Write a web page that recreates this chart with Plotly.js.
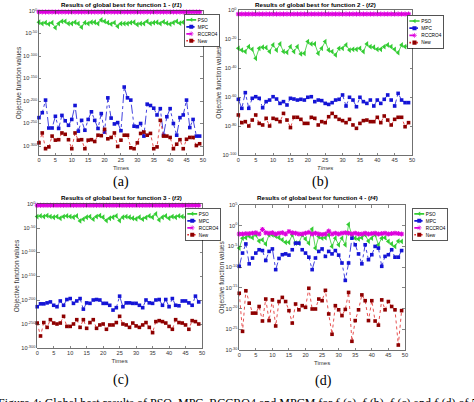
<!DOCTYPE html>
<html><head><meta charset="utf-8">
<script src="https://cdn.plot.ly/plotly-3.0.1.min.js"></script>
<style>html,body{margin:0;padding:0;background:#fff;}#chart{width:474px;height:402px;}</style>
</head><body><div id="chart"></div>
<script>
// ---- data (log10 of objective function values) ----
const runs = [0,1,2,3,4,5,6,7,8,9,10,11,12,13,14,15,16,17,18,19,20,21,22,23,24,25,26,27,28,29,30,31,32,33,34,35,36,37,38,39,40,41,42,43,44,45,46,47,48,49];
const seriesNames = ['PSO','MPC','RCCRO4','New'];

const f1_pso = [-25,-28,-26,-29,-26,-37,-28,-23,-23,-28,-28,-25,-28,-36,-26,-28,-25,-25,-28,-20,-23,-26,-29,-26,-34,-28,-28,-28,-26,-25,-30,-28,-28,-23,-28,-26,-25,-28,-24,-27,-29,-26,-23,-27,-25,-28,-26,-24,-27,-27];
const f1_mpc = [-237,-226,-198,-260,-260,-234,-261,-232,-244,-254,-241,-210,-267,-243,-265,-241,-224,-243,-261,-228,-269,-193,-238,-251,-248,-266,-169,-193,-198,-256,-257,-250,-278,-207,-210,-216,-231,-217,-276,-235,-217,-250,-276,-237,-231,-198,-259,-241,-278,-278];
const f1_rccro4 = [-2,-2,-2,-2,-2,-2,-2,-2,-2,-2,-2,-2,-2,-2,-2,-2,-2,-2,-2,-2,-2,-2,-2,-2,-2,-2,-2,-2,-2,-2,-2,-2,-2,-2,-2,-2,-2,-2,-2,-2,-2,-2,-2,-2,-2,-2,-2,-2,-2,-2];
const f1_new = [-293,-271,-306,-302,-278,-287,-286,-271,-274,-286,-306,-271,-287,-286,-306,-287,-286,-290,-276,-277,-263,-284,-281,-271,-301,-287,-276,-276,-304,-306,-293,-272,-269,-276,-272,-306,-302,-243,-278,-278,-281,-306,-296,-286,-306,-285,-281,-281,-299,-295];

const f2_pso = [-26.4,-27.6,-28.7,-25.3,-27.1,-33.3,-26.4,-25.7,-26.0,-28.7,-24.1,-27.6,-23.4,-28.7,-29.2,-25.3,-28.7,-25.3,-30.3,-29.9,-21.8,-23.4,-23.4,-29.9,-26.4,-21.8,-27.6,-28.7,-31.0,-26.4,-26.4,-24.1,-27.6,-27.1,-27.1,-26.4,-28.7,-23.4,-25.3,-25.7,-27.1,-27.1,-25.3,-24.1,-25.3,-27.1,-29.4,-24.1,-25.3,-24.8];
const f2_mpc = [-61.6,-67.8,-57.0,-67.8,-60.9,-59.8,-60.9,-67.4,-63.2,-62.1,-59.8,-61.4,-64.4,-63.2,-65.5,-60.9,-61.4,-62.1,-61.6,-62.1,-60.2,-59.8,-63.2,-62.1,-62.5,-64.4,-65.1,-63.9,-62.1,-61.6,-58.6,-66.2,-60.2,-62.1,-66.7,-60.2,-63.2,-64.4,-62.1,-66.2,-62.1,-64.4,-61.6,-58.6,-62.1,-66.2,-57.5,-62.1,-63.9,-63.9];
const f2_rccro4 = [-2.8,-2.8,-2.8,-2.8,-2.8,-2.8,-2.8,-2.8,-2.8,-2.8,-2.8,-2.8,-2.8,-2.8,-2.8,-2.8,-2.8,-2.8,-2.8,-2.8,-2.8,-2.8,-2.8,-2.8,-2.8,-2.8,-2.8,-2.8,-2.8,-2.8,-2.8,-2.8,-2.8,-2.8,-2.8,-2.8,-2.8,-2.8,-2.8,-2.8,-2.8,-2.8,-2.8,-2.8,-2.8,-2.8,-2.8,-2.8,-2.8,-2.8];
const f2_new = [-72.4,-77.7,-77.0,-80.0,-75.9,-72.4,-78.2,-79.3,-74.7,-80.0,-74.7,-75.4,-77.0,-71.3,-75.9,-81.1,-74.0,-74.0,-75.4,-78.2,-78.2,-74.0,-74.7,-79.3,-77.0,-77.7,-73.6,-71.3,-73.6,-75.4,-76.3,-77.7,-75.4,-79.3,-81.6,-78.2,-76.3,-75.9,-77.0,-77.0,-74.0,-77.7,-73.1,-75.9,-79.3,-75.4,-74.0,-74.0,-80.5,-77.7];

const f3_pso = [-26.2,-24.8,-26.2,-24.1,-26.2,-27.6,-26.2,-29.7,-26.2,-24.8,-26.2,-27.6,-24.8,-35.2,-31.7,-27.6,-26.2,-31.7,-26.2,-24.1,-27.6,-34.5,-29.7,-27.6,-24.8,-34.5,-27.6,-26.2,-27.6,-29.7,-31.0,-27.6,-31.7,-28.3,-24.8,-27.6,-20.7,-33.1,-27.6,-24.8,-29.7,-26.2,-27.6,-24.8,-26.2,-27.6,-26.2,-24.8,-27.6,-26.2];
const f3_mpc = [-214,-208,-208,-206,-204,-211,-214,-202,-211,-199,-197,-207,-202,-197,-219,-206,-207,-200,-199,-200,-207,-207,-211,-221,-216,-192,-214,-206,-206,-207,-207,-211,-216,-200,-206,-207,-200,-199,-211,-199,-214,-197,-211,-212,-202,-202,-206,-211,-192,-204];
const f3_rccro4 = [-2.7,-2.7,-2.7,-2.7,-2.7,-2.7,-2.7,-2.7,-2.7,-2.7,-2.7,-2.7,-2.7,-2.7,-2.7,-2.7,-2.7,-2.7,-2.7,-2.7,-2.7,-2.7,-2.7,-2.7,-2.7,-2.7,-2.7,-2.7,-2.7,-2.7,-2.7,-2.7,-2.7,-2.7,-2.7,-2.7,-2.7,-2.7,-2.7,-2.7,-2.7,-2.7,-2.7,-2.7,-2.7,-2.7,-2.7,-2.7,-2.7,-2.7];
const f3_new = [-248,-275,-247,-257,-241,-248,-250,-248,-234,-255,-255,-250,-241,-257,-241,-259,-247,-241,-259,-252,-250,-261,-252,-252,-247,-234,-250,-252,-257,-248,-254,-257,-252,-247,-257,-268,-245,-243,-245,-248,-255,-261,-241,-247,-248,-252,-261,-243,-245,-250];

const f4_pso = [-5.4,-3.0,-2.9,-2.5,-2.9,-2.2,-3.7,-3.4,-4.4,-2.2,-2.2,-2.5,-2.9,-3.4,-4.0,-4.0,-2.2,-4.2,-4.2,-2.2,-3.2,-4.2,-0.8,-5.4,-2.6,-3.0,-2.9,-2.2,-5.0,-3.0,-4.6,-3.0,-4.6,0.3,-2.2,-3.0,-3.2,-2.9,-2.2,-3.7,-3.0,-2.2,-4.6,-3.0,-2.9,-3.8,-4.4,-5.0,-3.7,-3.8];
const f4_mpc = [-9.8,-6.6,-4.4,-9.2,-7.8,-6.6,-5.8,-6.0,-8.4,-6.2,-5.6,-10.6,-7.9,-7.0,-6.8,-7.1,-5.8,-4.2,-4.2,-5.8,-6.6,-7.6,-10.6,-7.8,-6.2,-5.6,-7.4,-6.2,-6.8,-6.0,-7.1,-9.0,-13.2,-9.0,-3.0,-4.6,-6.8,-9.2,-4.6,-8.2,-7.0,-5.0,-5.4,-9.8,-7.4,-7.0,-5.8,-7.6,-7.6,-6.0];
const f4_rccro4 = [-2.0,-2.0,-1.9,-1.9,-1.8,-1.7,-2.0,-0.9,-1.7,-1.8,-1.7,-2.0,-1.8,-1.7,-2.0,-1.4,-1.7,-1.8,-2.0,-2.0,-1.8,-1.6,-2.0,-1.8,-2.0,-2.1,-2.0,-1.3,-2.0,-1.8,-2.0,-1.8,-1.7,-1.8,-2.0,-1.8,-2.0,-2.0,-1.8,-2.0,-1.9,-1.8,-2.0,-1.9,-1.8,-2.0,-1.9,-1.8,-1.9,-2.0];
const f4_new = [-16.3,-25.5,-15.7,-18.7,-21.1,-21.1,-19.5,-23.0,-17.7,-22.9,-17.9,-24.2,-18.3,-17.3,-18.3,-20.5,-23.5,-18.9,-20.3,-19.3,-19.7,-15.1,-20.1,-20.1,-17.7,-18.1,-15.6,-21.3,-26.2,-19.3,-20.3,-21.7,-20.2,-16.1,-27.9,-22.9,-20.3,-16.7,-18.1,-22.9,-18.1,-23.0,-24.0,-17.9,-20.3,-18.3,-19.5,-20.3,-28.8,-20.5];

// tick labels
const xTickVals = [0,5,10,15,20,25,30,35,40,45,50];
const f13_tickExp = [0,-50,-100,-150,-200,-250,-300];
const f13_tickText = ['10<sup>0</sup>','10<sup>-50</sup>','10<sup>-100</sup>','10<sup>-150</sup>','10<sup>-200</sup>','10<sup>-250</sup>','10<sup>-300</sup>'];
const f2_tickExp = [0,-20,-40,-60,-80,-100];
const f2_tickText = ['10<sup>0</sup>','10<sup>-20</sup>','10<sup>-40</sup>','10<sup>-60</sup>','10<sup>-80</sup>','10<sup>-100</sup>'];
const f4_tickExp = [5,0,-5,-10,-15,-20,-25,-30];
const f4_tickText = ['10<sup>5</sup>','10<sup>0</sup>','10<sup>-5</sup>','10<sup>-10</sup>','10<sup>-15</sup>','10<sup>-20</sup>','10<sup>-25</sup>','10<sup>-30</sup>'];

const panelTitles = ['Results of global best for function 1 - (<i>f1</i>)','Results of global best for function 2 - (<i>f2</i>)','Results of global best for function 3 - (<i>f3</i>)','Results of global best for function 4 - (<i>f4</i>)'];
const panelLetters = ['(a)','(b)','(c)','(d)'];
const caption = 'Figure 4: Global best results of PSO, MPC, RCCRO4 and MPCM for <i>f</i><sub>1</sub>(a), <i>f</i><sub>2</sub>(b), <i>f</i><sub>3</sub>(c) and <i>f</i><sub>4</sub>(d) of 50';

// ---- styling / layout ----
const W = 474, H = 402;
const px = v => v / W, py = v => 1 - v / H;
const pow10 = a => a.map(e => Math.pow(10, e));

const style = {
  PSO:    {line:{color:'#33cc33', width:0.8, dash:'solid'},  marker:{symbol:'triangle-left', size:5, color:'#33cc33'}},
  MPC:    {line:{color:'#1414d6', width:0.8, dash:'dashdot'}, marker:{symbol:'square', size:3.6, color:'#1414d6'}},
  RCCRO4: {line:{color:'#dd00dd', width:0.8, dash:'dash'},   marker:{symbol:'asterisk-open', size:4.2, color:'#dd00dd', line:{color:'#dd00dd', width:1.1}}},
  New:    {line:{color:'#e02424', width:0.8, dash:'dot'},    marker:{symbol:'square', size:3.6, color:'#8e0000'}}
};

const panels = [
  {data:[f1_pso,f1_mpc,f1_rccro4,f1_new], xa:'x',  ya:'y',  leg:'legend'},
  {data:[f2_pso,f2_mpc,f2_rccro4,f2_new], xa:'x2', ya:'y2', leg:'legend2'},
  {data:[f3_pso,f3_mpc,f3_rccro4,f3_new], xa:'x3', ya:'y3', leg:'legend3'},
  {data:[f4_pso,f4_mpc,f4_rccro4,f4_new], xa:'x4', ya:'y4', leg:'legend4'}
];

const traces = [];
panels.forEach(p => {
  p.data.forEach((arr, k) => {
    const nm = seriesNames[k];
    traces.push(Object.assign({
      type:'scatter', mode:'lines+markers', name:nm, x:runs, y:pow10(arr),
      xaxis:p.xa, yaxis:p.ya, legend:p.leg, showlegend:true, cliponaxis:false
    }, JSON.parse(JSON.stringify(style[nm]))));
  });
});

const axColor = '#333';
const tickFont = {family:'Liberation Sans, Arial, sans-serif', size:5.6, color:'#333'};
function xAxis(dom, anchor, italic) {
  return {domain:dom, anchor:anchor, range:[0,50], tickmode:'array', tickvals:xTickVals,
    ticks:'inside', ticklen:2.5, tickwidth:0.6, tickcolor:axColor, showline:true, linecolor:axColor, linewidth:0.7,
    mirror:'ticks', showgrid:false, zeroline:false, tickfont:tickFont,
    title:{text: italic ? '<i>Times</i>' : 'Times', standoff:3, font:{family:'Liberation Sans, Arial, sans-serif', size:6, color:'#333'}}};
}
function yAxis(dom, anchor, range, exps, texts) {
  return {domain:dom, anchor:anchor, type:'log', range:range, tickmode:'array', tickvals:pow10(exps), ticktext:texts,
    ticks:'inside', ticklen:2.5, tickwidth:0.6, tickcolor:axColor, showline:true, linecolor:axColor, linewidth:0.7,
    mirror:'ticks', showgrid:false, zeroline:false, tickfont:tickFont,
    title:{text:'Objective function values', standoff:0, font:{family:'Liberation Sans, Arial, sans-serif', size:6.5, color:'#333'}}};
}
function legendAt(x, y) {
  return {x:px(x), y:py(y), xanchor:'left', yanchor:'top', bgcolor:'#ffffff', bordercolor:'#000', borderwidth:2,
    font:{family:'Liberation Sans, Arial, sans-serif', size:14, color:'#000'}, itemsizing:'constant', tracegroupgap:0, itemwidth:30};
}
// pixel corners (top-left) and scale of the four legends
const legendCorners = {legend:[184,14,0.33], legend2:[407,15,0.34], legend3:[185,208,0.33], legend4:[412,208,0.33]};

const titleFont = {family:'Liberation Sans, Arial, sans-serif', size:6.2, color:'#000'};
const letterFont = {family:'Liberation Serif, Times New Roman, serif', size:14, color:'#000'};
const ann = (text, x, y, font, xanchor, yanchor) => ({text, x, y, xref:'paper', yref:'paper', showarrow:false, font, xanchor:xanchor||'center', yanchor:yanchor||'middle'});

const layout = {
  width:W, height:H, margin:{l:0,r:0,t:0,b:0}, paper_bgcolor:'#fff', plot_bgcolor:'#fff', hovermode:false,
  xaxis:  xAxis([px(44), px(229)], 'y', false),
  yaxis:  yAxis([py(155), py(11)], 'x', [-320, 0], f13_tickExp, f13_tickText),
  xaxis2: xAxis([px(269), px(465)], 'y2', true),
  yaxis2: yAxis([py(155), py(10)], 'x2', [-100, 0], f2_tickExp, f2_tickText),
  xaxis3: xAxis([px(42), px(228)], 'y3', false),
  yaxis3: yAxis([py(348), py(204)], 'x3', [-300, 0], f13_tickExp, f13_tickText),
  xaxis4: xAxis([px(270), px(457)], 'y4', false),
  yaxis4: yAxis([py(350), py(205)], 'x4', [-30, 5], f4_tickExp, f4_tickText),
  legend:  legendAt(184, 14),
  legend2: legendAt(405, 15),
  legend3: legendAt(185, 208),
  legend4: legendAt(412, 208),
  annotations: [
    ann('<b>' + panelTitles[0] + '</b>', px(137), py(4.5), titleFont),
    ann('<b>' + panelTitles[1] + '</b>', px(356), py(4.5), titleFont),
    ann('<b>' + panelTitles[2] + '</b>', px(137), py(197), titleFont),
    ann('<b>' + panelTitles[3] + '</b>', px(358), py(197), titleFont),
    ann(panelLetters[0], px(137), py(182), letterFont),
    ann(panelLetters[1], px(362), py(182), letterFont),
    ann(panelLetters[2], px(137), py(380), letterFont),
    ann(panelLetters[3], px(365), py(381), letterFont),
    ann(caption, px(-4), py(394), {family:'Liberation Serif, Times New Roman, serif', size:12, color:'#000'}, 'left', 'top')
  ]
};

Plotly.newPlot('chart', traces, layout, {staticPlot:true, displayModeBar:false}).then(gd => {
  // shrink the four legends to the compact size of the original figure and pin their corners
  Object.keys(legendCorners).forEach(id => {
    const g = gd.querySelector('g.' + id);
    if (g) {
      const c = legendCorners[id];
      g.setAttribute('transform', 'translate(' + c[0] + ',' + c[1] + ') scale(' + c[2] + ')');
    }
  });
});
</script>
</body></html>
